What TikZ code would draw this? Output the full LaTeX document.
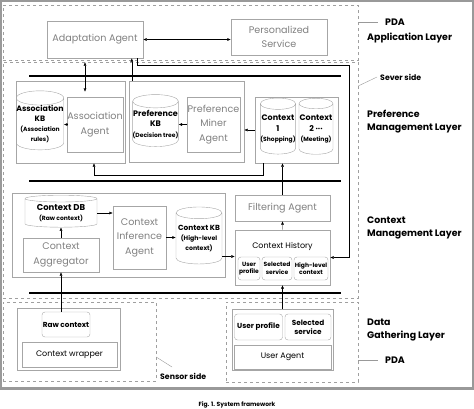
\documentclass[tikz,border=0pt]{standalone}
\usepackage{fontspec}
\setmainfont{Poppins}
\usetikzlibrary{shapes.geometric,arrows.meta}

\begin{document}
\begin{tikzpicture}[x=1pt,y=-1pt,>={Latex[length=3.5pt,width=3pt]},
  layer/.style={draw=gray!75, dashed, inner sep=0pt},
  frame/.style={draw=gray!70, inner sep=0pt},
  agent/.style={draw=gray!70, text=gray, align=center, inner sep=0pt, font=\fontsize{9.6}{14.5}\selectfont},
  store/.style={draw=gray!70, align=center, inner sep=0pt, font=\fontsize{8}{9}\selectfont},
  item/.style={draw=gray!70, rounded corners=3pt, align=center, inner sep=0pt, font=\bfseries\fontsize{7.3}{9}\selectfont},
  kb/.style={cylinder, shape border rotate=90, draw=gray!70, align=center, inner sep=0pt, font=\bfseries\fontsize{8}{10.5}\selectfont},
  small/.style={font=\bfseries\fontsize{6}{7}\selectfont},
  lbl/.style={font=\bfseries\fontsize{9.4}{13.5}\selectfont, align=left, inner sep=0pt, anchor=west},
  bar/.style={line width=2.6pt},
  leader/.style={draw=gray!80}]
\useasboundingbox (0,0) rectangle (474,408);
\draw[gray!80, line width=2.5pt] (1.2,1.2) rectangle (472.8,388.5);

% layers
\node[layer, minimum width=355, minimum height=55] (AppL) at (180.5,32.5) {};
\node[layer, minimum width=355, minimum height=236] (SrvL) at (180.5,180) {};
\node[layer, minimum width=153, minimum height=79] (SensL) at (79.5,341.5) {};
\node[layer, minimum width=132, minimum height=80] (UserL) at (292,342) {};

\draw[bar] (29,76) -- (341,76);
\draw[bar] (29,181) -- (341,181);
\draw[bar] (29,293) -- (341,293);

% application layer
\node[agent, minimum width=96, minimum height=37] (Adapt) at (95,39.5) {Adaptation Agent};
\node[agent, minimum width=96, minimum height=36] (PServ) at (279,37) {Personalized\\Service};

% preference management layer
\node[frame, minimum width=109, minimum height=82] (AssocBox) at (70.5,122) {};
\node[kb, minimum width=42, minimum height=52, aspect=0.3, font=\bfseries\fontsize{7.8}{10}\selectfont] (AssocKB) at (40,124)
  {Association\\KB\\{\fontsize{6}{7}\selectfont (Association}\\{\fontsize{6}{7}\selectfont rules)}};
\node[agent, minimum width=54, minimum height=55] (AssocAg) at (95,124.5) {Association\\Agent};
\node[frame, minimum width=115, minimum height=81] (PrefBox) at (186.5,121.5) {};
\node[kb, minimum width=45, minimum height=52, aspect=0.29] (PrefKB) at (155.5,124)
  {Preference\\KB\\{\fontsize{6}{7}\selectfont (Decision tree)}};
\node[agent, minimum width=53, minimum height=55] (Miner) at (213.5,124.5) {Preference\\Miner\\Agent};
\node[frame, minimum width=83, minimum height=66] (CtxBox) at (296.5,130) {};
\node[kb, minimum width=34, minimum height=56, aspect=0.32] (Ctx1) at (278,129)
  {Context\\1\\{\fontsize{6}{7}\selectfont (Shopping)}};
\node[kb, minimum width=34, minimum height=56, aspect=0.32] (Ctx2) at (316,129)
  {Context\\2 ···\\{\fontsize{6}{7}\selectfont (Meeting)}};

% context management layer
\node[frame, minimum width=213, minimum height=84] (CMBox) at (118.5,235) {};
\node[kb, minimum width=72, minimum height=32, aspect=0.14] (CtxDB) at (61,213)
  {{\fontsize{8.5}{10}\selectfont Context DB}\\{\fontsize{6}{7}\selectfont (Raw context)}};
\node[agent, minimum width=76, minimum height=34] (Aggr) at (61,255) {Context\\Aggregator};
\node[agent, minimum width=53, minimum height=63] (Infer) at (139.5,237.5) {Context\\Inference\\Agent};
\node[kb, minimum width=46, minimum height=57, aspect=0.28, font=\bfseries\fontsize{7.4}{10}\selectfont] (CtxKB) at (199,238.5)
  {Context KB\\{\fontsize{6.2}{8}\selectfont (High-level}\\{\fontsize{6.2}{8}\selectfont context)}};
\node[agent, minimum width=95, minimum height=26] (Filter) at (282.5,208) {Filtering Agent};
\node[kb, minimum width=95, minimum height=55, aspect=0.13] (Hist) at (282.5,257.5) {};
\node[font=\fontsize{8}{9}\selectfont, inner sep=0pt] (HistT) at (282.5,246.5) {Context History};
\node[item, minimum width=22, minimum height=23, font=\bfseries\fontsize{6}{7.5}\selectfont] (HUser) at (249,268.5) {User\\profile};
\node[item, minimum width=30, minimum height=23, font=\bfseries\fontsize{6}{7.5}\selectfont] (HServ) at (277,268.5) {Selected\\service};
\node[item, minimum width=34, minimum height=23, font=\bfseries\fontsize{6}{7.5}\selectfont] (HHigh) at (311,268.5) {High-level\\context};

% data gathering layer
\node[frame, minimum width=103, minimum height=62] (SensBox) at (68.5,339) {};
\node[item, minimum width=48, minimum height=25] (Raw) at (66,324.5) {Raw context};
\node[store, minimum width=95, minimum height=25] (Wrap) at (69.5,354.5) {Context wrapper};
\node[frame, minimum width=101, minimum height=61] (UBox) at (282.5,339.5) {};
\node[item, minimum width=48, minimum height=26] (UProf) at (258.5,327) {User profile};
\node[item, minimum width=46, minimum height=26] (USel) at (308,327) {Selected\\service};
\node[store, minimum width=97, minimum height=24] (UAg) at (282.5,357) {User Agent};

% connectors
\draw[<->] (Adapt.east) -- (Adapt.east -| PServ.west);
\draw[<->, shorten <=4pt, shorten >=5pt] (Adapt.south -| 85,0) -- (AssocAg.north -| 85,0);
\draw[->] ([xshift=3pt]PrefBox.north west) -- ([xshift=3pt]PrefBox.north west |- Adapt.south);
\coordinate (TurnA) at (349,65);
\draw[->] ([xshift=42pt]Adapt.south) |- (TurnA) |- (Hist.east);
\draw[->] (AssocAg.west) -- (AssocAg.west -| AssocKB.east);
\draw[->] (Miner.west) -- (Miner.west -| PrefKB.east);
\draw[->] (CtxBox.west) -- (CtxBox.west -| PrefBox.east);
\coordinate (TurnB) at (94,175);
\draw[->] ([xshift=-33.5pt]CtxBox.south) |- (TurnB) -- (TurnB |- AssocBox.south);
\draw[->] (Filter.north) -- (Filter.north |- CtxBox.south);
\draw[->] (Hist.north) -- (Filter.south);
\draw[->] (Aggr.north) -- (CtxDB.south);
\draw[->] (CtxDB.east) -- (CtxDB.east -| Infer.west);
\draw[->] (Infer.east) -- (Infer.east -| CtxKB.west);
\draw[->] ([yshift=-18pt]CtxKB.east) -- ([yshift=-18pt]CtxKB.east -| Hist.west);
\draw[->] (Raw.north -| Aggr.south) -- (Aggr.south);
\draw[->] (UBox.north) -- (Hist.south);

% layer labels
\node[lbl] (PDA1) at (385,22) {PDA};
\node[lbl] (AppT) at (367,38) {Application Layer};
\node[lbl, font=\bfseries\fontsize{7.8}{9}\selectfont] (SrvT) at (380,77) {Sever side};
\node[lbl] (PrefT) at (367,121.5) {Preference\\Management Layer};
\node[lbl] (CtxT) at (367,228) {Context\\Management Layer};
\node[lbl] (DataT) at (367,330) {Data\\Gathering Layer};
\node[lbl] (PDA2) at (385,360) {PDA};
\node[lbl, font=\bfseries\fontsize{7.8}{9}\selectfont] (SensT) at (160,376) {Sensor side};
\draw[leader] (AppL.east |- PDA1.west) -- ([xshift=-7pt]PDA1.west);
\draw[leader] (SrvL.east |- SrvT.west) ++(0,9) -- ([xshift=-3pt]SrvT.west);
\draw[leader] (UserL.east |- PDA2.west) -- ([xshift=-7pt]PDA2.west);
\draw[leader] (SensL.east |- SensT.west) ++(0,-19) -- ([shift={(12pt,9pt)}]SensT.west);

\node[font=\bfseries\fontsize{6}{7}\selectfont, inner sep=0pt] (Cap) at (237,405) {Fig. 1. System framework};
\end{tikzpicture}
\end{document}
